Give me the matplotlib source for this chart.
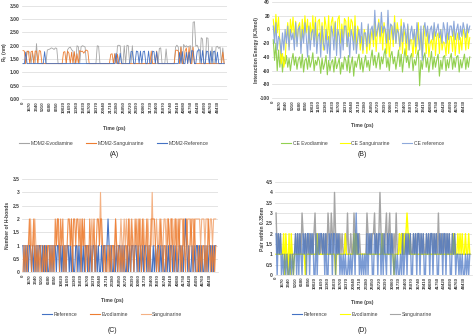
import numpy as np
import matplotlib.pyplot as plt

# Tick labels on the time axis (ps)
TIME_TICKS = [0, 1670, 3340, 5010, 6680, 8350, 10020, 11690, 13360, 15030,
              16700, 18370, 20040, 21710, 23380, 25050, 26720, 28390, 30060, 31730,
              33400, 35070, 36740, 38410, 40080, 41750, 43420, 45090, 46760, 48430]

# (A) radius of gyration, nm
RG_EVODIAMINE = [
    1.33, 1.33, 1.33, 1.80, 1.78, 1.76, 1.33, 1.74, 1.33, 1.33,
    2.08, 1.33, 1.33, 1.33, 1.33, 1.33, 1.33, 1.33, 1.84, 1.86,
    1.88, 1.92, 1.90, 1.86, 1.92, 1.90, 1.33, 1.33, 1.33, 1.33,
    1.33, 1.33, 1.33, 1.85, 1.92, 1.95, 1.85, 1.80, 1.33, 1.33,
    2.00, 1.96, 1.33, 1.96, 2.00, 1.98, 1.95, 1.33, 1.33, 1.33,
    1.33, 1.33, 1.33, 1.33, 1.33, 2.00, 1.98, 1.33, 1.33, 1.33,
    1.33, 1.33, 1.33, 1.33, 1.33, 1.33, 1.33, 1.33, 1.70, 1.33,
    2.00, 2.02, 2.00, 1.33, 1.33, 2.00, 1.33, 2.02, 2.00, 1.33,
    1.33, 2.00, 1.33, 1.33, 1.33, 1.33, 1.33, 1.33, 1.33, 1.33,
    1.33, 1.33, 1.33, 1.33, 1.33, 1.33, 1.33, 1.33, 1.33, 1.33,
    1.33, 1.90, 1.92, 1.33, 1.33, 1.33, 1.88, 1.33, 1.33, 1.33,
    1.33, 1.33, 1.33, 1.95, 2.02, 1.95, 1.33, 1.98, 1.33, 2.05,
    1.95, 2.00, 1.95, 1.98, 2.00, 1.33, 2.88, 2.90, 1.98, 2.02,
    1.90, 1.33, 2.30, 2.25, 1.33, 1.33, 2.30, 2.28, 1.33, 1.33,
    1.95, 1.33, 1.33, 1.95, 1.98, 1.90, 1.95, 1.33, 1.92, 1.33]
RG_SANGUINARINE = [
    1.82, 1.80, 1.33, 1.78, 1.80, 1.33, 1.78, 1.80, 1.33, 1.80,
    1.80, 1.33, 1.82, 1.80, 1.33, 1.33, 1.33, 1.33, 1.33, 1.33,
    1.33, 1.33, 1.33, 1.33, 1.33, 1.33, 1.33, 1.33, 1.33, 1.33,
    1.76, 1.78, 1.33, 1.80, 1.72, 1.33, 1.76, 1.33, 1.78, 1.33,
    1.70, 1.33, 1.82, 1.78, 1.80, 1.72, 1.80, 1.84, 1.80, 1.33,
    1.33, 1.33, 1.33, 1.33, 1.33, 1.33, 1.33, 1.33, 1.33, 1.33,
    1.33, 1.33, 1.33, 1.33, 1.33, 1.68, 1.70, 1.33, 1.70, 1.33,
    1.68, 1.33, 1.33, 1.33, 1.33, 1.33, 1.33, 1.33, 1.33, 1.33,
    1.33, 1.33, 1.33, 1.33, 1.33, 1.33, 1.33, 1.33, 1.33, 1.33,
    1.33, 1.33, 1.33, 1.33, 1.33, 1.80, 1.33, 1.33, 1.33, 1.80,
    1.33, 1.33, 1.33, 1.33, 1.33, 1.33, 1.33, 1.33, 1.33, 1.33,
    1.33, 1.33, 1.33, 1.82, 1.84, 1.80, 1.33, 1.95, 1.33, 1.33,
    1.80, 1.92, 1.33, 1.95, 1.33, 1.33, 1.95, 1.33, 1.33, 1.33,
    1.33, 1.33, 1.33, 1.33, 1.33, 1.33, 1.33, 1.33, 1.33, 1.33,
    1.33, 1.33, 1.33, 1.33, 1.33, 1.33, 1.33, 1.33, 1.76, 1.33]
RG_REFERENCE = [
    1.33, 1.33, 1.76, 1.33, 1.33, 1.33, 1.33, 1.33, 1.33, 1.33,
    1.33, 1.33, 1.33, 1.33, 1.33, 1.33, 1.78, 1.33, 1.33, 1.33,
    1.33, 1.33, 1.33, 1.33, 1.33, 1.33, 1.33, 1.33, 1.33, 1.33,
    1.33, 1.33, 1.33, 1.33, 1.33, 1.33, 1.33, 1.33, 1.33, 1.33,
    1.33, 1.33, 1.33, 1.33, 1.33, 1.33, 1.33, 1.33, 1.33, 1.33,
    1.33, 1.33, 1.33, 1.33, 1.33, 1.33, 1.33, 1.33, 1.33, 1.33,
    1.33, 1.33, 1.33, 1.33, 1.33, 1.33, 1.33, 1.33, 1.33, 1.72,
    1.33, 1.33, 1.72, 1.33, 1.33, 1.33, 1.33, 1.33, 1.33, 1.33,
    1.78, 1.78, 1.33, 1.33, 1.80, 1.78, 1.33, 1.80, 1.33, 1.78,
    1.80, 1.33, 1.33, 1.80, 1.33, 1.33, 1.80, 1.78, 1.33, 1.78,
    1.33, 1.33, 1.33, 1.33, 1.33, 1.33, 1.33, 1.33, 1.33, 1.33,
    1.33, 1.33, 1.33, 1.33, 1.33, 1.33, 1.75, 1.33, 1.78, 1.33,
    1.33, 1.75, 1.33, 1.76, 1.33, 1.82, 1.80, 1.33, 1.33, 1.78,
    1.85, 1.84, 1.33, 1.82, 1.33, 1.33, 1.80, 1.78, 1.33, 1.80,
    1.33, 1.78, 1.80, 1.33, 1.76, 1.33, 1.33, 1.33, 1.33, 1.33]

# (B) interaction energy, KJ/mol
CE_EVODIAMINE = [
    -15, -45, -20, -60, -30, -55, -35, -62, -40, -50, -38, -55, -42, -60, -45,
    -35, -52, -40, -58, -44, -40, -56, -36, -62, -45, -42, -58, -38, -55, -47,
    -34, -60, -45, -52, -40, -46, -64, -42, -58, -50, -38, -66, -45, -60, -48,
    -44, -62, -40, -57, -50, -42, -65, -48, -58, -40, -45, -60, -38, -63, -50,
    -40, -68, -46, -55, -44, -36, -58, -42, -62, -48, -38, -55, -45, -60, -42,
    -30, -52, -38, -56, -44, -34, -58, -40, -50, -36, -28, -55, -42, -60, -38,
    -32, -50, -40, -58, -45, -30, -54, -36, -62, -42, -28, -48, -38, -56, -40,
    -35, -60, -44, -52, -38, -30, -82, -45, -58, -40, -34, -55, -42, -62, -46,
    -32, -58, -40, -55, -44, -36, -68, -45, -58, -40, -38, -60, -44, -56, -42,
    -35, -58, -42, -55, -40, -38, -62, -44, -56, -45, -36, -58, -42, -55, -40]
CE_SANGUINARINE = [
    15, -10, 22, -5, 18, -20, -50, -35, -55, -45, -10, 10, -25, 15, -5,
    18, -15, 12, -20, 5, 10, -25, 15, -10, 20, -5, 15, -20, 10, -15,
    20, -10, 18, -25, 12, 15, -20, 10, -30, 18, 5, -15, 20, -25, 10,
    18, -10, 12, -28, 15, 20, -20, 8, -15, 16, 12, -25, 18, -10, 15,
    10, -20, 20, -30, 5, -5, -30, -10, -35, 0, -10, -35, 5, -30, -15,
    0, -25, 10, -32, -5, 15, -20, 5, -30, 10, -10, -35, 0, -40, -15,
    5, -25, 20, -20, 10, -5, -30, 15, -35, 0, -10, -38, 5, -30, -15,
    -15, -40, 0, -35, -20, 10, -30, -5, -38, 5, -10, -35, 0, -40, -20,
    -15, -30, 5, -38, -10, -5, -35, 0, -30, -18, -20, -38, -5, -35, -10,
    -10, -32, 0, -38, -15, -5, -35, -12, -30, 0, -8, -30, 5, -28, -12]
CE_REFERENCE = [
    5, -20, 10, -30, -10, -15, -35, -5, -30, 0, -20, 5, -30, 0, -15,
    -5, -30, 10, -25, 0, 5, -35, 0, -20, 10, -10, -40, 5, -30, -5,
    0, -25, 10, -35, -10, -5, -40, 5, -20, -30, 0, -35, -10, -45, 5,
    -5, -30, 10, -38, 0, -10, -42, 0, -30, 5, 5, -25, -5, -40, 0,
    -10, -30, 5, -35, -15, 0, -20, 10, -30, -5, -5, -25, 8, -20, 0,
    5, -15, 28, -10, 0, 10, -10, 25, -5, 5, 0, -20, 28, -15, 8,
    5, -15, 10, -20, 0, -5, -25, 5, -18, 10, 0, -20, 8, -30, -5,
    5, -15, 0, -25, 10, -10, -30, 5, -45, 0, 10, -10, 5, -20, 0,
    5, -15, 10, -10, 0, 8, -12, 0, -20, 10, 0, -20, 10, -15, 5,
    5, -10, 12, -15, 0, 8, -15, 5, -10, 10, 0, -12, 8, -5, 5]

# (C) number of H-bonds
HB_REFERENCE = [
    1, 0, 1, 0, 1, 0, 1, 1, 0, 1, 0, 1, 0, 1, 0, 1, 1, 0, 1, 0, 1, 0, 1, 0,
    0, 1, 0, 1, 0, 1, 1, 0, 1, 1, 0, 1, 0, 1, 0, 1, 0, 1, 1, 0, 1, 0, 1, 0,
    0, 1, 1, 0, 1, 0, 1, 0, 1, 0, 1, 1, 0, 1, 0, 1, 0, 1, 1, 0, 1, 0, 1, 0,
    0, 1, 0, 1, 1, 0, 1, 2, 1, 0, 1, 0, 0, 1, 0, 1, 0, 1, 1, 0, 1, 0, 1, 0,
    0, 1, 0, 1, 0, 1, 1, 0, 1, 1, 0, 1, 0, 1, 0, 1, 0, 1, 1, 0, 1, 0, 1, 0,
    0, 1, 0, 1, 0, 1, 1, 0, 1, 0, 1, 0, 0, 1, 0, 1, 0, 1, 1, 0, 1, 0, 1, 0,
    0, 1, 1, 0, 1, 0, 1, 2, 1, 0, 1, 0, 0, 1, 0, 1, 0, 1, 1, 0, 1, 0, 1, 0,
    0, 1, 0, 1, 0, 1, 1, 0, 1, 0, 1, 1]
HB_EVODIAMINE = [
    0, 1, 0, 1, 0, 1, 2, 1, 0, 1, 2, 0, 1, 0, 1, 0, 1, 0, 0, 1, 0, 1, 0, 1,
    1, 0, 1, 0, 1, 0, 2, 1, 2, 2, 0, 2, 1, 2, 0, 1, 0, 1, 2, 2, 1, 2, 0, 2,
    2, 1, 2, 2, 1, 2, 0, 2, 1, 2, 0, 1, 1, 0, 2, 1, 0, 1, 2, 0, 1, 2, 2, 1,
    2, 2, 1, 0, 1, 0, 0, 1, 0, 1, 0, 1, 1, 0, 2, 1, 0, 1, 0, 1, 0, 1, 0, 1,
    1, 0, 2, 1, 0, 2, 1, 0, 1, 2, 1, 0, 2, 1, 0, 2, 1, 0, 1, 2, 0, 1, 0, 2,
    2, 2, 2, 1, 0, 1, 0, 1, 2, 1, 0, 1, 1, 0, 1, 2, 1, 0, 2, 1, 0, 1, 2, 0,
    1, 2, 0, 1, 0, 2, 1, 0, 2, 1, 0, 1, 2, 1, 0, 2, 1, 0, 0, 1, 0, 1, 0, 1,
    1, 0, 1, 0, 2, 1, 0, 1, 0, 1, 0, 1]
HB_SANGUINARINE = [
    1, 1, 1, 1, 1, 1, 1, 2, 1, 1, 1, 2, 1, 1, 1, 1, 1, 1, 1, 0, 1, 1, 0, 1,
    1, 1, 1, 1, 1, 1, 1, 1, 2, 1, 1, 1, 1, 0, 1, 1, 1, 1, 1, 1, 1, 2, 1, 1,
    1, 1, 0, 1, 1, 1, 1, 2, 1, 1, 1, 1, 1, 1, 1, 1, 2, 1, 1, 1, 1, 0, 1, 1,
    3, 1, 1, 1, 1, 1, 1, 1, 1, 1, 1, 1, 1, 1, 2, 1, 1, 1, 1, 2, 1, 1, 2, 1,
    2, 1, 1, 2, 1, 1, 1, 1, 2, 1, 1, 2, 1, 2, 1, 1, 2, 1, 1, 1, 2, 1, 1, 1,
    3, 1, 1, 1, 2, 1, 1, 2, 1, 1, 1, 2, 2, 1, 2, 2, 1, 2, 2, 2, 1, 2, 2, 1,
    2, 1, 2, 2, 2, 1, 2, 2, 1, 2, 2, 2, 1, 2, 2, 1, 2, 2, 2, 2, 2, 1, 2, 2,
    2, 1, 2, 2, 2, 1, 2, 2, 1, 2, 2, 2]

# (D) pairs within 0.35 nm
PAIR_REFERENCE = [
    2, 0, 2, 1, 2, 0, 1, 0, 1, 0, 1, 0, 0, 1, 0, 1, 0, 1, 2, 0, 2, 0, 2, 1,
    0, 2, 1, 2, 0, 2, 2, 0, 2, 1, 2, 0, 0, 2, 0, 2, 1, 2, 2, 1, 2, 0, 2, 0,
    0, 2, 1, 2, 0, 2, 2, 0, 2, 1, 2, 0, 1, 0, 1, 0, 1, 0, 0, 1, 0, 1, 0, 1,
    2, 0, 3, 1, 2, 0, 1, 0, 1, 0, 1, 0, 2, 0, 2, 1, 2, 0, 0, 2, 1, 2, 0, 2,
    2, 0, 2, 0, 2, 1, 0, 2, 1, 2, 0, 2, 1, 0, 1, 0, 1, 0, 0, 1, 0, 2, 0, 1,
    2, 0, 2, 1, 2, 0, 0, 2, 1, 2, 0, 2, 2, 0, 2, 1, 2, 0, 0, 2, 1, 2, 0, 2,
    2, 0, 2, 1, 2, 0, 0, 2, 1, 2, 0, 2, 2, 0, 2, 1, 2, 0, 0, 2, 1, 2, 0, 1,
    1, 0, 1, 0, 1, 0, 0, 1, 0, 1, 0, 1]
PAIR_EVODIAMINE = [
    1, 1, 1, 1, 1, 1, 1, 2, 0, 2, 1, 0, 2, 0, 2, 1, 0, 1, 1, 1, 1, 1, 1, 1,
    1, 1, 1, 0, 1, 1, 1, 1, 1, 1, 1, 1, 1, 1, 2, 1, 1, 1, 1, 1, 1, 1, 1, 1,
    1, 1, 1, 1, 1, 1, 1, 0, 1, 1, 1, 1, 1, 1, 1, 1, 2, 1, 1, 1, 1, 1, 1, 1,
    2, 1, 2, 1, 1, 1, 1, 1, 1, 1, 1, 1, 1, 1, 1, 1, 1, 1, 1, 1, 1, 1, 1, 1,
    1, 1, 2, 1, 1, 1, 1, 1, 1, 1, 1, 1, 1, 0, 1, 1, 1, 1, 2, 1, 2, 2, 1, 2,
    2, 3, 2, 2, 1, 1, 1, 1, 1, 1, 1, 1, 1, 1, 1, 1, 1, 1, 1, 1, 1, 1, 1, 1,
    1, 1, 1, 1, 1, 1, 1, 1, 1, 1, 1, 1, 1, 1, 1, 1, 1, 1, 1, 1, 2, 1, 1, 1,
    2, 1, 2, 1, 2, 1, 1, 2, 1, 1, 2, 1]
PAIR_SANGUINARINE = [
    3, 1, 2, 1, 2, 1, 1, 1, 1, 1, 1, 1, 1, 1, 1, 1, 1, 1, 2, 1, 2, 1, 2, 1,
    3, 2, 1, 2, 1, 2, 1, 2, 1, 2, 1, 2, 3, 1, 2, 1, 2, 1, 2, 1, 2, 1, 2, 1,
    3, 2, 1, 3, 2, 1, 4, 2, 1, 2, 1, 2, 1, 2, 1, 1, 2, 1, 3, 1, 1, 2, 1, 1,
    3, 2, 1, 2, 1, 2, 1, 1, 1, 1, 1, 1, 3, 2, 1, 2, 1, 2, 2, 3, 1, 2, 1, 2,
    4, 2, 1, 2, 1, 2, 3, 1, 2, 3, 1, 2, 1, 2, 1, 3, 1, 1, 2, 1, 2, 1, 2, 1,
    2, 1, 2, 1, 2, 1, 1, 2, 1, 2, 1, 2, 2, 1, 2, 1, 2, 1, 1, 2, 1, 2, 1, 2,
    2, 1, 2, 1, 2, 1, 3, 1, 2, 1, 2, 1, 2, 1, 2, 1, 2, 1, 1, 2, 1, 2, 1, 1,
    1, 1, 1, 1, 1, 1, 1, 1, 1, 1, 1, 1]

T_END = 50000
GRID = '#D9D9D9'
FS = 3.6

plt.rcParams['font.family'] = ['Liberation Sans', 'DejaVu Sans']

fig = plt.figure(figsize=(4.74, 3.36), dpi=100)


def style_axis(ax, ymin, ymax, ystep, fmt):
    ax.set_xlim(-300, 50600)
    ax.set_ylim(ymin, ymax)
    yt = np.arange(ymin, ymax + ystep / 2, ystep)
    ax.set_yticks(yt)
    ax.set_yticklabels([fmt.format(v) for v in yt], fontsize=FS, fontweight='bold', color='#404040')
    ax.set_xticks(TIME_TICKS)
    ax.set_xticklabels([str(t) for t in TIME_TICKS], rotation=90, fontsize=3.2,
                       fontweight='bold', color='#404040')
    ax.tick_params(length=0, pad=1.5)
    ax.grid(axis='y', color=GRID, lw=0.5)
    ax.set_axisbelow(True)
    for s in ['top', 'right', 'left']:
        ax.spines[s].set_visible(False)
    ax.spines['bottom'].set_color(GRID)
    ax.spines['bottom'].set_linewidth(0.5)


def draw(ax, series, lw=0.5):
    for vals, col, lab, z, a in series:
        t = np.linspace(0, T_END, len(vals))
        ax.plot(t, vals, color=col, lw=lw, label=lab, zorder=z, alpha=a)


def finish(ax, xc, y_time, y_leg, y_tag, tag, ylab, xlab):
    fig.text(xc, y_time, 'Time (ps)', ha='center', va='center', fontsize=FS, fontweight='bold', color='#404040')
    fig.text(xlab, (ax.get_position().y0 + ax.get_position().y1) / 2, ylab, rotation=90,
             ha='center', va='center', fontsize=FS, fontweight='bold', color='#404040')
    leg = fig.legend(*ax.get_legend_handles_labels(), loc='center', bbox_to_anchor=(xc, y_leg),
                     ncol=3, frameon=False, fontsize=FS, handlelength=2, columnspacing=2.5,
                     handletextpad=0.3, labelcolor='#404040')
    for h in leg.get_lines():
        h.set_linewidth(0.8)
        h.set_alpha(1)
    fig.text(xc, y_tag, tag, ha='center', va='center', fontsize=5, color='#202020')


# (A)
axA = fig.add_axes([0.046, 0.705, 0.432, 0.278])
draw(axA, [(RG_EVODIAMINE, '#A5A5A5', 'MDM2-Evodiamine', 2, 1),
           (RG_SANGUINARINE, '#ED7D31', 'MDM2-Sanguinarine', 3, 1),
           (RG_REFERENCE, '#4472C4', 'MDM2-Reference', 4, 1)], lw=0.6)
style_axis(axA, 0.0, 3.5, 0.5, '{:.2f}')
finish(axA, 0.24, 0.619, 0.574, 0.539, '(A)', r'R$_g$ (nm)', 0.012)

# (B)
axB = fig.add_axes([0.574, 0.708, 0.422, 0.286])
draw(axB, [(CE_EVODIAMINE, '#92D050', 'CE Evodiamine', 2, 1),
           (CE_SANGUINARINE, '#FFFF00', 'CE Sanguinarine', 3, 1),
           (CE_REFERENCE, '#8EA9DB', 'CE reference', 4, 1)], lw=0.8)
style_axis(axB, -100, 40, 20, '{:.0f}')
finish(axB, 0.765, 0.625, 0.574, 0.539, '(B)', 'Interaction Energy (KJ/mol)', 0.542)

# (C)
axC = fig.add_axes([0.046, 0.190, 0.414, 0.277])
draw(axC, [(HB_REFERENCE, '#4472C4', 'Reference', 3, 1),
           (HB_EVODIAMINE, '#ED7D31', 'Evodiamine', 4, 0.85),
           (HB_SANGUINARINE, '#F4B183', 'Sanguinarine', 2, 1)], lw=0.8)
style_axis(axC, 0, 3.5, 0.5, '{:g}')
finish(axC, 0.237, 0.107, 0.065, 0.015, '(C)', 'Number of H-bonds', 0.015)

# (D)
axD = fig.add_axes([0.580, 0.182, 0.416, 0.276])
draw(axD, [(PAIR_REFERENCE, '#4472C4', 'Reference', 4, 0.7),
           (PAIR_EVODIAMINE, '#FFFF00', 'Evodiamine', 3, 1),
           (PAIR_SANGUINARINE, '#A5A5A5', 'Sanguinarine', 2, 1)], lw=1.0)
style_axis(axD, 0, 4.5, 0.5, '{:g}')
finish(axD, 0.764, 0.101, 0.065, 0.015, '(D)', 'Pair within 0.35nm', 0.553)

fig.savefig('out.png', dpi=100)
